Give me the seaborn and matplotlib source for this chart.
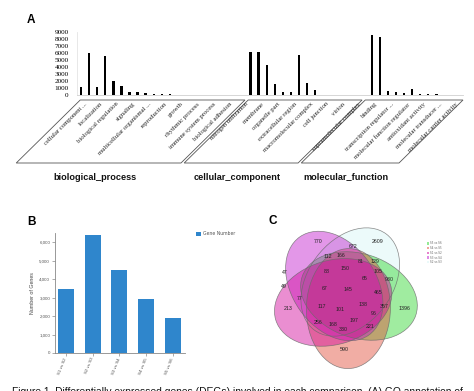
import numpy as np
import pandas as pd
import matplotlib
matplotlib.use("Agg")
import matplotlib.pyplot as plt
import seaborn as sns
from matplotlib.patches import Ellipse, Polygon, Patch

# ---------------- Panel A data ----------------
bp_values = [1100, 6000, 1200, 5600, 2050, 1350, 430, 380, 330, 190, 190, 190,
             0, 0, 0, 0, 0, 0, 0, 0, 0]
cc_values = [6100, 6100, 4290, 1570, 430, 380, 5760, 1760, 670, 20, 20, 20, 20, 20]
mf_values = [0, 8530, 8330, 570, 430, 290, 860, 100, 100, 100, 0, 0]
bp_labels = ["cellular component ...", "localization", "biological regulation",
             "signaling", "multicellular organismal ...", "reproduction", "growth",
             "rhythmic process", "immune system process", "biological adhesion",
             "nitrogen utilization"]
cc_labels = ["membrane", "organelle part", "extracellular region",
             "macromolecular complex", "cell junction", "virion",
             "supramolecular complex"]
mf_labels = ["binding", "transcription regulator ...", "molecular function regulator",
             "antioxidant activity", "molecular transducer ...",
             "molecular carrier activity"]
ontologies = ["biological_process", "cellular_component", "molecular_function"]
a_yticks = [0, 1000, 2000, 3000, 4000, 5000, 6000, 7000, 8000, 9000]

# ---------------- Panel B data ----------------
comparisons = ["S1 vs S2", "S2 vs S3", "S3 vs S4", "S4 vs S5", "S5 vs S6"]
gene_numbers = [3450, 6400, 4500, 2900, 1870]
b_yticks = [0, 1000, 2000, 3000, 4000, 5000, 6000]

# ---------------- Panel C data ----------------
# sets in petal order: left, top-left, top-right, right, bottom
venn_names = ["S1 vs S2", "S3 vs S4", "S2 vs S3", "S5 vs S6", "S4 vs S5"]
venn_colors = ["#d1059b", "#c119cd", "#d7f5f5", "#2dd72d", "#e14b37"]
legend_order = [3, 4, 0, 1, 2]
draw_order = [2, 3, 4, 1, 0]
venn_counts = [770, 2609, 1396, 590, 213, 672, 112, 166, 129, 81, 150, 88, 47, 49,
               67, 145, 65, 105, 930, 465, 357, 138, 96, 77, 117, 101, 256, 168,
               330, 197, 221]
# label anchor points (Venn axes units)
venn_label_xy = [(-27, 53.7), (33, 53.7), (59.7, -13), (-0.3, -54.7), (-57, -13),
                 (8, 48.7), (-17, 38.7), (-3.7, 39.7), (29.7, 33.7), (15.7, 33.7),
                 (-0.3, 27), (-18.7, 23.7), (-60.3, 22), (-61, 8.7), (-20.3, 7),
                 (3, 5.3), (19.7, 17), (33, 23.7), (44.7, 15.3), (33, 2),
                 (39.7, -11.3), (18, -9), (29, -18.3), (-45.3, -3), (-23.7, -11.3),
                 (-5.3, -14.7), (-27, -28), (-12, -29.7), (-2, -34.7), (9, -25.7),
                 (24.7, -31.3)]

W, H = 474, 391
fig = plt.figure(figsize=(W / 100, H / 100), dpi=100)
SERIF = ["Liberation Serif", "DejaVu Serif"]
SANS = ["Liberation Sans", "DejaVu Sans"]

ov = fig.add_axes([0, 0, 1, 1])
ov.set_xlim(0, W)
ov.set_ylim(H, 0)
ov.axis("off")

# ---------------- Panel A ----------------
sections = [bp_values, cc_values, mf_values]
starts = np.cumsum([0] + [len(v) for v in sections])[:-1]
rows = []
for name, st, vals in zip(ontologies, starts, sections):
    for i, v in enumerate(vals):
        rows.append({"slot": st + i, "count": v, "ontology": name})
dfa = pd.DataFrame(rows)

axA = fig.add_axes([77 / W, (H - 95) / H, 386 / W, 63 / H])
sns.barplot(data=dfa, x="slot", y="count", native_scale=True, width=0.3,
            color="black", linewidth=0, ax=axA)
axA.set_xlim(-0.5, 47.3)
axA.set_ylim(0, 9000)
axA.set_yticks(a_yticks)
axA.set_yticklabels([str(t) for t in a_yticks], family=SERIF, fontsize=5.2)
axA.tick_params(axis="y", length=0, pad=6)
axA.set_xticks([])
axA.set_xlabel("")
axA.set_ylabel("")
for s in ["top", "right"]:
    axA.spines[s].set_visible(False)
axA.spines["left"].set_color("#e4e4e4")
axA.spines["bottom"].set_color("#d0d0d0")
axA.spines["left"].set_linewidth(0.6)
axA.spines["bottom"].set_linewidth(0.6)
axA.patch.set_alpha(0)


def px(slot):
    return axA.transData.transform((slot, 0))[0]


y_top, y_bot, skew = 100.0, 163.0, 64.0
bounds = [(-0.1, 20.5), (20.5, 35.0), (35.0, 47.3)]
all_labels = [bp_labels, cc_labels, mf_labels]
for k, ((s0, s1), name, st, vals, labs) in enumerate(
        zip(bounds, ontologies, starts, sections, all_labels)):
    xl = px(s0) + (1.6 if k > 0 else 0)
    xr = px(s1) - (1.6 if k < 2 else 0)
    poly = Polygon([(xl, y_top), (xr, y_top), (xr - skew, y_bot), (xl - skew, y_bot)],
                   closed=True, fill=False, edgecolor="#555555", linewidth=0.6)
    ov.add_patch(poly)
    first = 0 if k == 0 else 1
    for j, lab in enumerate(labs):
        slot = st + first + 2 * j
        ov.text(px(slot) + 3, y_top + 1.5, lab, rotation=45, rotation_mode="anchor",
                ha="right", va="top", family=SERIF, fontsize=4.8, color="#222222")
    xmid = ((xl - skew) + (xr - skew)) / 2
    ov.text(xmid - 4, 177, name, ha="center", va="center", family=SANS,
            fontweight="bold", fontsize=6.6, color="#111111")

ov.text(31, 20, "A", ha="center", va="center", family=SANS, fontweight="bold",
        fontsize=8.5)
ov.text(32, 222, "B", ha="center", va="center", family=SANS, fontweight="bold",
        fontsize=8.5)
ov.text(273, 221, "C", ha="center", va="center", family=SANS, fontweight="bold",
        fontsize=8.5)

# ---------------- Panel B ----------------
BLUE = "#1589e6"
dfb = pd.DataFrame({"comparison": comparisons, "genes": gene_numbers,
                    "series": ["Gene Number"] * len(comparisons)})
axB = fig.add_axes([55 / W, (H - 353) / H, 130 / W, 120 / H])
sns.barplot(data=dfb, x="comparison", y="genes", hue="series", palette=[BLUE],
            width=0.6, linewidth=0, ax=axB)
handles, labels = axB.get_legend_handles_labels()
if axB.get_legend() is not None:
    axB.get_legend().remove()
axB.set_xlim(-0.41, 4.45)
axB.set_ylim(0, 6500)
axB.set_yticks(b_yticks)
axB.set_yticklabels([f"{t:,}" for t in b_yticks], fontsize=3.2, color="#555555",
                    family=SANS)
axB.set_xticks(range(len(comparisons)))
axB.set_xticklabels(comparisons, rotation=68, rotation_mode="anchor", ha="right",
                    va="center", fontsize=3.2, color="#555555", family=SANS)
axB.tick_params(axis="both", length=2, width=0.5, color="#888888", pad=1.5)
axB.set_xlabel("")
axB.set_ylabel("Number of Genes", fontsize=3.8, color="#444444", family=SANS,
               labelpad=3)
for s in ["top", "right"]:
    axB.spines[s].set_visible(False)
for s in ["left", "bottom"]:
    axB.spines[s].set_color("#888888")
    axB.spines[s].set_linewidth(0.6)
axB.patch.set_alpha(0)
fig.legend(handles, labels, loc="upper left", bbox_to_anchor=(192 / W, 1 - 227 / H),
           frameon=False, fontsize=3.3, handlelength=1.0, handleheight=1.0,
           handletextpad=0.4, labelcolor="#555555")

# ---------------- Panel C ----------------
axC = fig.add_axes([265 / W, (H - 375) / H, 160 / W, 160 / H])
axC.set_xlim(-80, 80)
axC.set_ylim(-80, 80)
axC.set_aspect("equal")
axC.axis("off")
d, A, Bm = 14.0, 60.0, 42.0
base_angle = 197.0
delta = 15.0
for z, k in enumerate(draw_order):
    ax_ang = base_angle - 72 * k
    ca = np.deg2rad(ax_ang + delta)
    cx, cy = d * np.cos(ca), d * np.sin(ca)
    e = Ellipse((cx, cy), 2 * A, 2 * Bm, angle=ax_ang, facecolor=venn_colors[k],
                alpha=0.45, edgecolor="none", zorder=1 + z)
    axC.add_patch(e)
for k in range(5):
    ax_ang = base_angle - 72 * k
    ca = np.deg2rad(ax_ang + delta)
    cx, cy = d * np.cos(ca), d * np.sin(ca)
    e2 = Ellipse((cx, cy), 2 * A, 2 * Bm, angle=ax_ang, facecolor="none",
                 edgecolor="#6a6a6a", linewidth=0.5, alpha=0.8, zorder=10)
    axC.add_patch(e2)
for n, (x, y) in zip(venn_counts, venn_label_xy):
    axC.text(x, y, str(n), ha="center", va="center", fontsize=3.8, color="#222222",
             family=SANS, zorder=20)
vh = [Patch(facecolor=venn_colors[i], alpha=0.5, edgecolor="none") for i in legend_order]
vl = [venn_names[i] for i in legend_order]
fig.legend(vh, vl, loc="upper left", bbox_to_anchor=(424 / W, 1 - 239 / H),
           frameon=False, fontsize=2.0, handlelength=0.9, handleheight=0.9,
           handletextpad=0.3, labelspacing=0.25, labelcolor="#666666")

# ---------------- caption ----------------
fig.text(12 / W, 1 - 387 / H,
         "Figure 1. Differentially expressed genes (DEGs) involved in each comparison. (A) GO annotation of",
         ha="left", va="top", fontsize=7.4, family=SANS, color="#111111")

fig.savefig("out.png", dpi=100)
